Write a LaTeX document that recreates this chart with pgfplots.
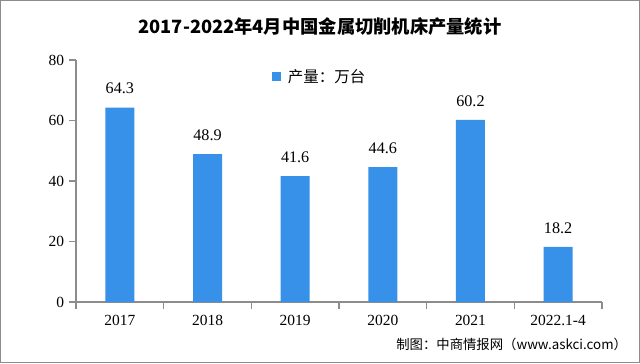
\documentclass[border=0pt]{standalone}
\usepackage{pgfplots}
\pgfplotsset{compat=1.18}
\usepackage{fontspec}
\setmainfont{Liberation Serif}
\newfontfamily\cjk{Noto Sans CJK SC}
\definecolor{barblue}{RGB}{55,145,232}
\definecolor{axgray}{RGB}{140,140,140}
\begin{document}
\begin{tikzpicture}
\fill[white] (0,0) rectangle (16cm,9.075cm);
\draw[axgray,line width=0.8pt] (0.0125cm,0.0125cm) rectangle (15.9875cm,9.0625cm);
\begin{axis}[
  at={(1.9cm,1.525cm)}, anchor=south west,
  scale only axis, width=13.15cm, height=6.05cm,
  xmin=-0.5, xmax=5.5, ymin=0, ymax=80,
  axis x line*=bottom, axis y line*=left,
  axis line style={axgray, line width=0.8pt},
  xtick={-0.5,0.5,...,5.5},
  xticklabels={},
  extra x ticks={0,...,5},
  extra x tick labels={2017,2018,2019,2020,2021,2022.1-4},
  extra x tick style={major tick length=0pt, xticklabel style={yshift=-6pt}},
  ytick={0,20,40,60,80},
  tick style={axgray, line width=0.8pt},
  major tick length=5pt,
  tick align=outside,
  ticklabel style={font=\fontsize{11}{13}\selectfont, text=black},
  /pgf/number format/assume math mode=true,
  clip=false,
]
\addplot[ybar, bar width=0.725cm, fill=barblue, draw=none,
  nodes near coords, point meta=explicit symbolic,
  every node near coord/.append style={font=\fontsize{11.5}{13}\selectfont, text=black, yshift=6pt}]
  coordinates {(0,64.3)[64.3] (1,48.9)[48.9] (2,41.6)[41.6] (3,44.6)[44.6] (4,60.2)[60.2] (5,18.2)[18.2]};
\end{axis}
\node[font=\cjk\bfseries\fontsize{13}{15}\selectfont] at (8cm,8.4cm) {2017-2022年4月中国金属切削机床产量统计};
\fill[barblue] (6.8cm,7.05cm) rectangle (7.025cm,7.275cm);
\node[anchor=west, font=\cjk\fontsize{11}{13}\selectfont] at (7.075cm,7.17cm) {产量：万台};
\node[anchor=east, font=\cjk\fontsize{9.5}{11}\selectfont] at (15.8cm,0.475cm) {制图：中商情报网（www.askci.com）};
\end{tikzpicture}
\end{document}
